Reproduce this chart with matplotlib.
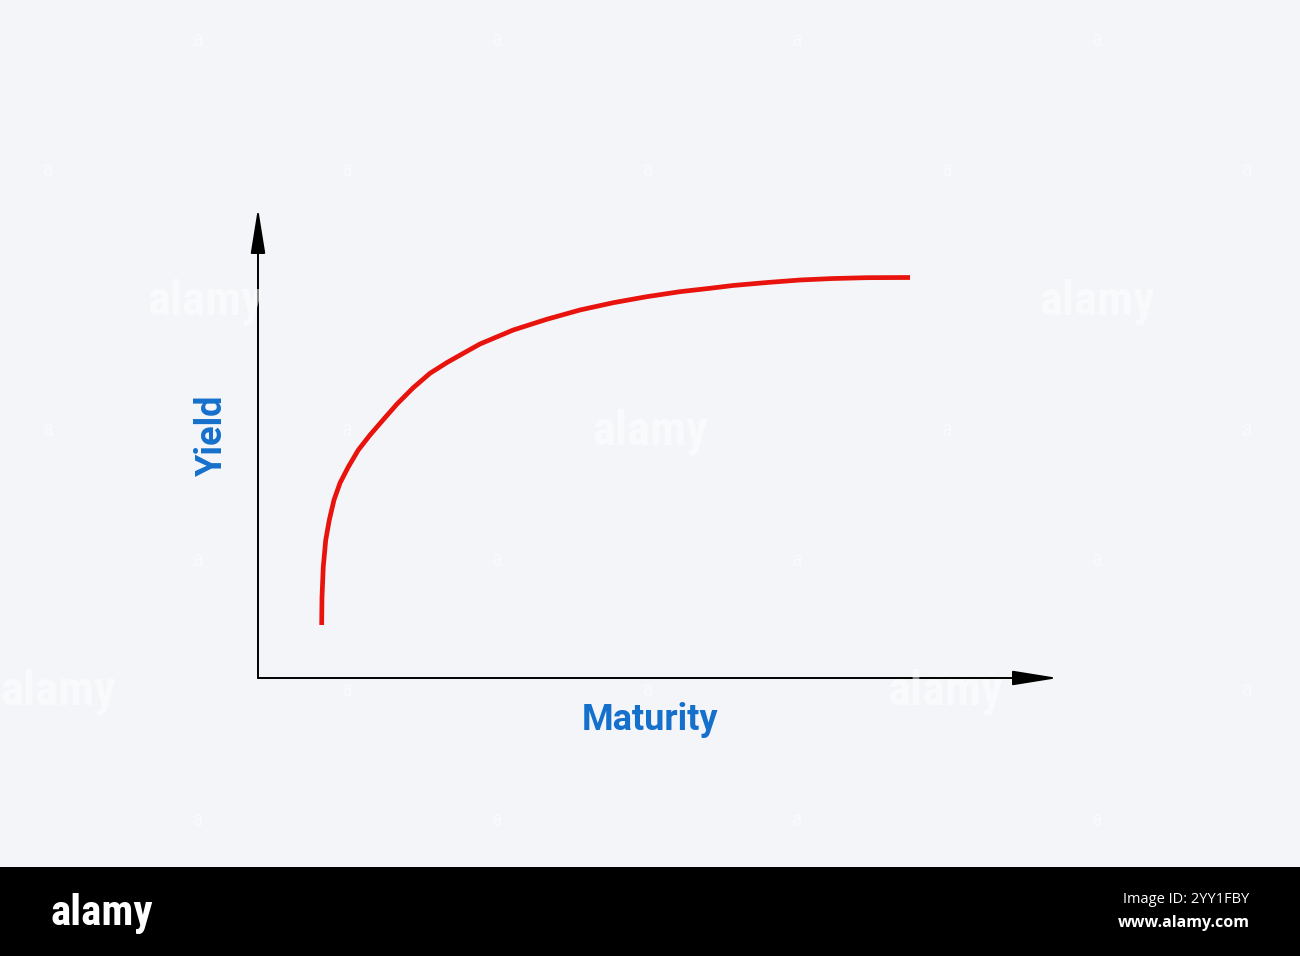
import matplotlib
matplotlib.use("Agg")
import matplotlib.pyplot as plt
from matplotlib import font_manager
from matplotlib.patches import Rectangle

# ---- data ----
maturity = [0.802, 0.806, 0.822, 0.853, 0.898, 0.957, 1.033, 1.137, 1.263,
            1.411, 1.574, 1.751, 1.952, 2.166, 2.377, 2.586, 2.796, 3.215,
            3.636, 4.055, 4.475, 4.895, 5.315, 5.693, 5.982, 6.411, 6.826,
            7.242, 7.670, 8.212]
yield_ = [1.140, 1.742, 2.387, 2.968, 3.398, 3.828, 4.194, 4.538, 4.903,
          5.226, 5.548, 5.892, 6.237, 6.553, 6.781, 6.983, 7.183, 7.484,
          7.714, 7.914, 8.071, 8.200, 8.308, 8.381, 8.441, 8.505, 8.559,
          8.591, 8.609, 8.613]
x_label = "Maturity"
y_label = "Yield"
brand = "alamy"
image_id = "Image ID: 2YY1FBY"
website = "www.alamy.com"

names = {f.name for f in font_manager.fontManager.ttflist}
preferred = ["Roboto Condensed", "Liberation Sans Narrow", "Open Sans Condensed"]
narrow = next((n for n in preferred if n in names), None)
if narrow is None:
    others = sorted(n for n in names if ("Condensed" in n or "Narrow" in n))
    narrow = others[0] if others else "Roboto"

W, H = 1300, 956
BG = "#f4f5f9"
BLUE = "#1570cc"
RED = "#e8130d"

fig = plt.figure(figsize=(W / 100, H / 100), dpi=100, facecolor=BG)

# plotting axes: origin at pixel (258, 678), arrow tips at x=1052 / y=213
ax = fig.add_axes([258 / W, (H - 678) / H, (1052 - 258) / W, (678 - 213) / H])
ax.set_xlim(0, 10)
ax.set_ylim(0, 10)
ax.axis("off")
ax.patch.set_alpha(0)

arrow_kw = dict(arrowstyle="-|>,head_length=2.8,head_width=0.45", color="black",
                lw=1.4, shrinkA=0, shrinkB=0, mutation_scale=10)
ax.annotate("", xy=(1 + 6 / 794, 0), xytext=(0, 0), xycoords="axes fraction",
            textcoords="axes fraction", arrowprops=arrow_kw)
ax.annotate("", xy=(0, 1 + 5 / 465), xytext=(0, 0), xycoords="axes fraction",
            textcoords="axes fraction", arrowprops=arrow_kw)

ax.plot(maturity, yield_, color=RED, lw=3.4, solid_capstyle="butt",
        solid_joinstyle="round")

# axis labels
fig.text(650 / W, 1 - 720 / H, x_label, ha="center", va="center",
         fontsize=26, fontweight="bold", family="Roboto", color=BLUE)
fig.text(212 / W, 1 - 435 / H, y_label, ha="center", va="center",
         rotation=90, fontsize=26, fontweight="bold", family="Roboto", color=BLUE)

# faint watermarks
for (px, py) in [(205, 302), (1097, 302), (650, 432), (58, 692), (945, 692)]:
    fig.text(px / W, 1 - py / H, "alamy", ha="center", va="center",
             fontsize=35, fontweight="bold", family=narrow, color="white",
             alpha=0.5, zorder=10)
for (px, py) in [(198, 40), (497, 40), (797, 40), (1097, 40),
                 (48, 170), (347, 170), (648, 170), (947, 170), (1247, 170),
                 (48, 430), (347, 430), (947, 430), (1247, 430),
                 (198, 560), (497, 560), (797, 560), (1097, 560),
                 (347, 690), (648, 690), (1247, 690),
                 (198, 820), (497, 820), (797, 820), (1097, 820)]:
    fig.text(px / W, 1 - py / H, "a", ha="center", va="center",
             fontsize=16, family=narrow, color="white", alpha=0.5, zorder=10)

# bottom black bar
fig.patches.append(Rectangle((0, 0), 1, (H - 867) / H, transform=fig.transFigure,
                             facecolor="black", edgecolor="none", zorder=5))
fig.text(50 / W, 1 - 925 / H, brand, ha="left", va="baseline", fontsize=31,
         fontweight="heavy", family=narrow, color="white", zorder=6)
fig.text(1249 / W, 1 - 903 / H, image_id, ha="right", va="baseline",
         fontsize=10.5, family="Open Sans", color="white", zorder=6)
fig.text(1250 / W, 1 - 927 / H, website, ha="right", va="baseline",
         fontsize=11.5, fontweight="bold", family="Open Sans", color="white", zorder=6)

fig.savefig("out.png", dpi=100, facecolor=BG)
